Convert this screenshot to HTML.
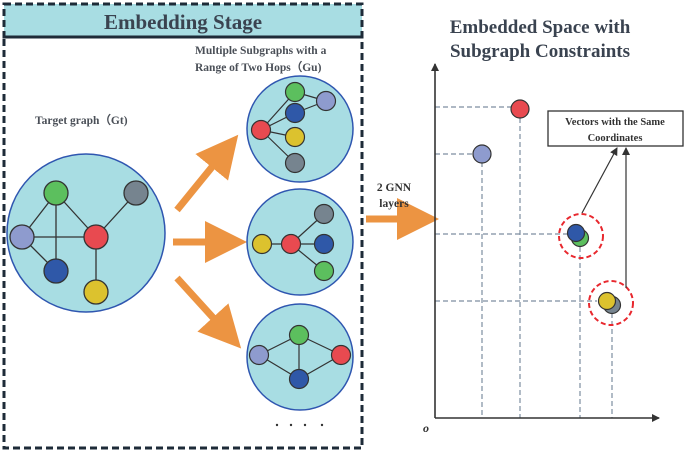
<!DOCTYPE html>
<html><head><meta charset="utf-8"><style>
body{margin:0;background:#fff;}
svg{display:block;}
text{font-family:"Liberation Serif",serif;font-weight:bold;}
</style></head><body>
<svg width="685" height="454" viewBox="0 0 685 454" xmlns="http://www.w3.org/2000/svg">
<defs>
<marker id="ah" markerWidth="8" markerHeight="8" refX="7" refY="4" orient="auto" markerUnits="userSpaceOnUse"><path d="M0,0 L8,4 L0,8 Z" fill="#333"/></marker>
<marker id="oh" markerWidth="6" markerHeight="6" refX="3" refY="3" orient="auto"><path d="M0,0 L6,3 L0,6 Z" fill="#ec9442"/></marker>
</defs>
<!-- left box -->
<rect x="4" y="4" width="358" height="33" fill="#a8dde3" stroke="#1e2b38" stroke-width="3" stroke-dasharray="7,4"/>
<rect x="4" y="37" width="358" height="411" fill="none" stroke="#1e2b38" stroke-width="3" stroke-dasharray="7,4"/>
<text x="183" y="29" font-size="21" text-anchor="middle" fill="#3a4350">Embedding Stage</text>
<text x="195" y="54" font-size="11.5" fill="#4a4f57">Multiple Subgraphs with a</text>
<text x="195" y="71" font-size="11.5" fill="#4a4f57">Range of Two Hops（Gu)</text>
<text x="35" y="124" font-size="11.5" fill="#4a4f57">Target graph（Gt)</text>
<!-- big graph -->
<g stroke="#333" stroke-width="1.3">
<circle cx="86" cy="233" r="79" fill="#a8dde3" stroke="#2f56b0" stroke-width="1.5"/>
<line x1="56" y1="193" x2="22" y2="237"/><line x1="56" y1="193" x2="56" y2="271"/><line x1="56" y1="193" x2="96" y2="237"/>
<line x1="22" y1="237" x2="96" y2="237"/><line x1="22" y1="237" x2="56" y2="271"/><line x1="96" y1="237" x2="136" y2="193"/><line x1="96" y1="237" x2="96" y2="292"/>
<circle cx="56" cy="193" r="12" fill="#5cbf5e"/><circle cx="136" cy="193" r="12" fill="#76848f"/><circle cx="22" cy="237" r="12" fill="#8e9bce"/>
<circle cx="96" cy="237" r="12" fill="#e84a50"/><circle cx="56" cy="271" r="12" fill="#2f58a8"/><circle cx="96" cy="292" r="12" fill="#dcc22e"/>
</g>
<!-- orange arrows -->
<g stroke="#ec9442" stroke-width="7" fill="none" marker-end="url(#oh)">
<line x1="177" y1="210" x2="225" y2="151"/>
<line x1="173" y1="242" x2="226" y2="242"/>
<line x1="177" y1="278" x2="227" y2="333"/>
<line x1="366" y1="219" x2="418" y2="219"/>
</g>
<!-- subgraph 1 -->
<g stroke="#333" stroke-width="1.2">
<circle cx="300" cy="129" r="53" fill="#a8dde3" stroke="#2f56b0" stroke-width="1.5"/>
<line x1="261" y1="130" x2="295" y2="92"/><line x1="261" y1="130" x2="295" y2="113"/><line x1="261" y1="130" x2="295" y2="137"/><line x1="261" y1="130" x2="295" y2="163"/>
<line x1="295" y1="92" x2="326" y2="101"/><line x1="295" y1="113" x2="326" y2="101"/>
<circle cx="261" cy="130" r="9.5" fill="#e84a50"/><circle cx="295" cy="92" r="9.5" fill="#5cbf5e"/><circle cx="295" cy="113" r="9.5" fill="#2f58a8"/>
<circle cx="295" cy="137" r="9.5" fill="#dcc22e"/><circle cx="295" cy="163" r="9.5" fill="#76848f"/><circle cx="326" cy="101" r="9.5" fill="#8e9bce"/>
</g>
<!-- subgraph 2 -->
<g stroke="#333" stroke-width="1.2">
<circle cx="300" cy="242" r="53" fill="#a8dde3" stroke="#2f56b0" stroke-width="1.5"/>
<line x1="262" y1="244" x2="291" y2="244"/><line x1="291" y1="244" x2="324" y2="214"/><line x1="291" y1="244" x2="324" y2="244"/><line x1="291" y1="244" x2="324" y2="271"/>
<circle cx="262" cy="244" r="9.5" fill="#dcc22e"/><circle cx="291" cy="244" r="9.5" fill="#e84a50"/><circle cx="324" cy="214" r="9.5" fill="#76848f"/>
<circle cx="324" cy="244" r="9.5" fill="#2f58a8"/><circle cx="324" cy="271" r="9.5" fill="#5cbf5e"/>
</g>
<!-- subgraph 3 -->
<g stroke="#333" stroke-width="1.2">
<circle cx="300" cy="357" r="53" fill="#a8dde3" stroke="#2f56b0" stroke-width="1.5"/>
<line x1="299" y1="335" x2="259" y2="355"/><line x1="299" y1="335" x2="341" y2="355"/><line x1="299" y1="335" x2="299" y2="379"/>
<line x1="259" y1="355" x2="299" y2="379"/><line x1="341" y1="355" x2="299" y2="379"/>
<circle cx="299" cy="335" r="9.5" fill="#5cbf5e"/><circle cx="259" cy="355" r="9.5" fill="#8e9bce"/><circle cx="341" cy="355" r="9.5" fill="#e84a50"/><circle cx="299" cy="379" r="9.5" fill="#2f58a8"/>
</g>
<g fill="#333"><circle cx="277" cy="425" r="1.2"/><circle cx="291" cy="425" r="1.2"/><circle cx="305" cy="425" r="1.2"/><circle cx="322" cy="425" r="1.2"/></g>
<!-- right -->
<text x="540" y="33" font-size="19" text-anchor="middle" fill="#3a4350">Embedded Space with</text>
<text x="540" y="57" font-size="19" text-anchor="middle" fill="#3a4350">Subgraph Constraints</text>
<text x="394" y="191" font-size="11.5" text-anchor="middle" fill="#333">2 GNN</text>
<text x="394" y="207" font-size="11.5" text-anchor="middle" fill="#333">layers</text>
<g stroke="#7d8ea0" stroke-width="1.2" stroke-dasharray="5,3" fill="none">
<line x1="435" y1="107" x2="512" y2="107"/><line x1="435" y1="154" x2="473" y2="154"/>
<line x1="435" y1="234" x2="567" y2="234"/><line x1="435" y1="301" x2="597" y2="301"/>
<line x1="482" y1="162" x2="482" y2="418"/><line x1="520" y1="118" x2="520" y2="418"/>
<line x1="580" y1="247" x2="580" y2="418"/><line x1="612" y1="313" x2="612" y2="418"/>
</g>
<line x1="435" y1="418" x2="435" y2="64" stroke="#333" stroke-width="1.6" marker-end="url(#ah)"/>
<line x1="435" y1="418" x2="659" y2="418" stroke="#333" stroke-width="1.6" marker-end="url(#ah)"/>
<text x="423" y="432" font-size="12" font-style="italic" fill="#333">o</text>
<g stroke="#333" stroke-width="1.2">
<circle cx="520" cy="109" r="9" fill="#e84a50"/><circle cx="482" cy="154" r="9" fill="#8e9bce"/>
<circle cx="580" cy="238" r="8.5" fill="#5cbf5e"/><circle cx="576" cy="233" r="8.5" fill="#2f58a8"/>
<circle cx="612" cy="305" r="8.5" fill="#76848f"/><circle cx="607" cy="301" r="8.5" fill="#dcc22e"/>
</g>
<g stroke="#e8282e" stroke-width="2" stroke-dasharray="5,3" fill="none">
<circle cx="581" cy="236" r="22"/><circle cx="611" cy="303" r="22"/>
</g>
<rect x="548" y="111" width="135" height="35" fill="#fff" stroke="#333" stroke-width="1.3"/>
<text x="615" y="125" font-size="10.5" text-anchor="middle" fill="#333">Vectors with the Same</text>
<text x="615" y="141" font-size="10.5" text-anchor="middle" fill="#333">Coordinates</text>
<line x1="582" y1="213" x2="617" y2="148" stroke="#333" stroke-width="1.2" marker-end="url(#ah)"/>
<line x1="626" y1="288" x2="626" y2="148" stroke="#333" stroke-width="1.2" marker-end="url(#ah)"/>
</svg>
</body></html>
